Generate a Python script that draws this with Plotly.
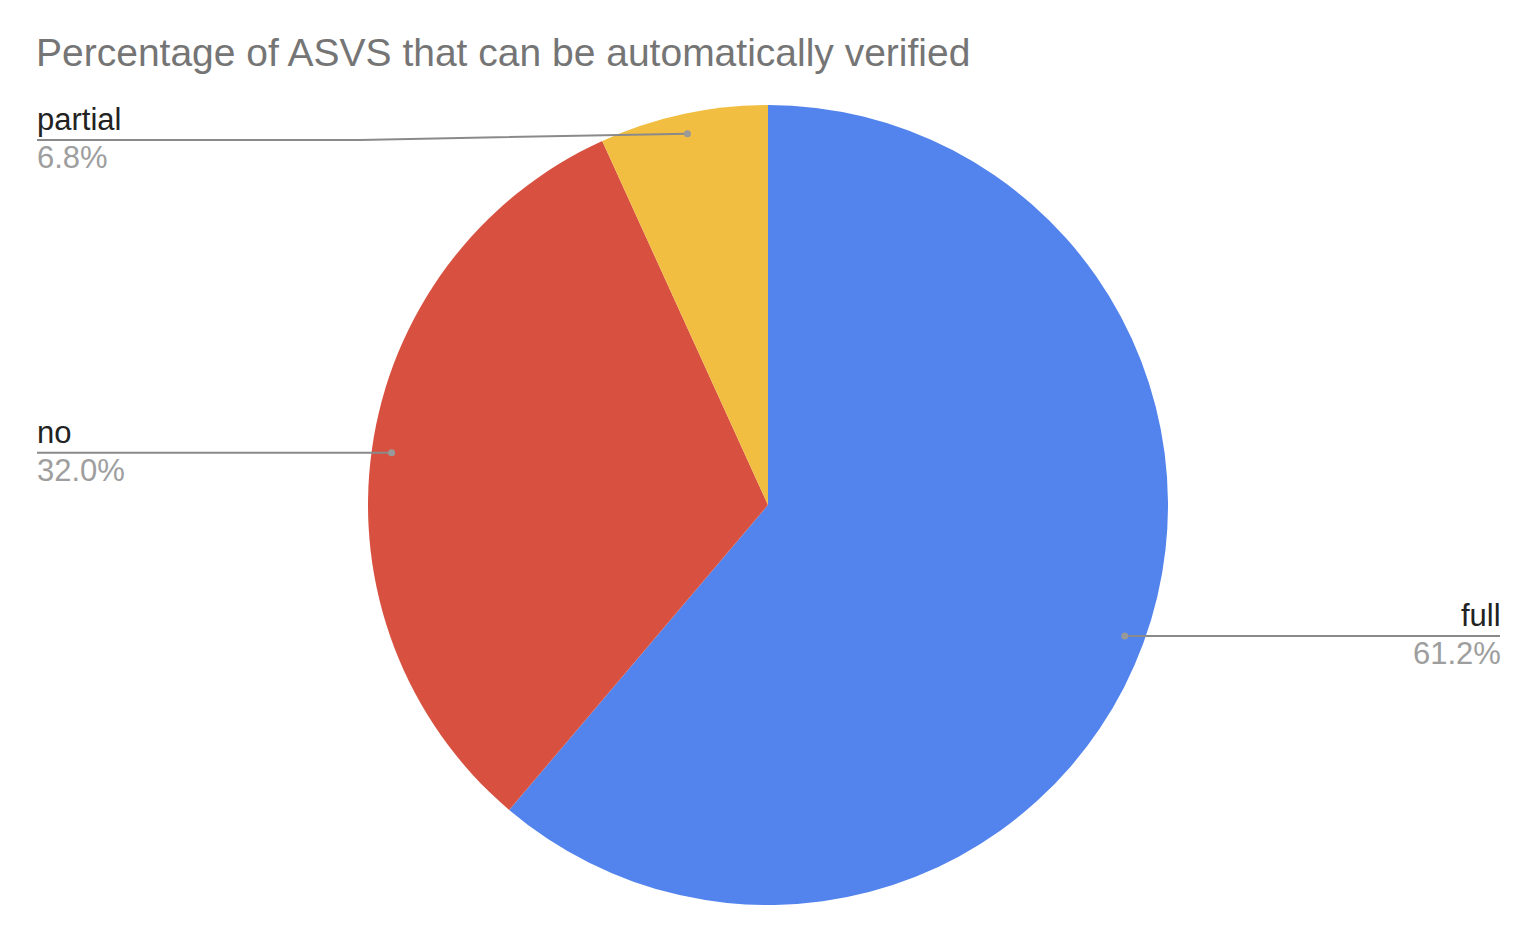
import math
import plotly.graph_objects as go

labels = ["full", "no", "partial"]
values = [61.2, 32.0, 6.8]
colors = ["#5383EC", "#D85140", "#F1BE42"]
title_text = "Percentage of ASVS that can be automatically verified"

W, H = 1536, 929
OFF = 8  # page body margin offset
CX, CY, R = 768 - OFF, 505 - OFF, 400  # pixel centre / radius of pie

fig = go.Figure(go.Pie(
    labels=labels, values=values, sort=False, direction="clockwise", rotation=0,
    marker=dict(colors=colors, line=dict(width=0)), textinfo="none",
    domain=dict(x=[(CX - R) / W, (CX + R) / W], y=[1 - (CY + R) / H, 1 - (CY - R) / H]),
    showlegend=False,
))

def px(x):
    return x / W

def py(y):
    return 1 - y / H

font = "Arial, Liberation Sans, sans-serif"
line_col = "#8a8a8a"
total = sum(values)
cum = 0
shapes = []
annotations = []
for lab, v in zip(labels, values):
    mid = (cum + v / 2) / total * 2 * math.pi
    cum += v
    dx, dy = math.sin(mid), -math.cos(mid)
    dotx, doty = CX + 0.95 * R * dx, CY + 0.95 * R * dy
    right = dx > 0
    end_x = (1500 if right else 37) - OFF
    ly = max(doty, 140 - OFF)
    if abs(ly - doty) > 0.5:
        elbow_x = 360 - OFF
        path = f"M {px(dotx)} {py(doty)} L {px(elbow_x)} {py(ly)} L {px(end_x)} {py(ly)}"
    else:
        path = f"M {px(dotx)} {py(doty)} L {px(end_x)} {py(ly)}"
    shapes.append(dict(type="path", xref="paper", yref="paper", path=path,
                       line=dict(color=line_col, width=2)))
    r = 3.5
    shapes.append(dict(type="circle", xref="paper", yref="paper",
                       x0=px(dotx - r), x1=px(dotx + r), y0=py(doty + r), y1=py(doty - r),
                       fillcolor="#999999", line=dict(width=0)))
    anchor = "right" if right else "left"
    tx = end_x + (3 if right else -2)
    annotations.append(dict(x=px(tx), y=py(ly - 1), xref="paper", yref="paper",
                            text=lab, showarrow=False, xanchor=anchor, yanchor="bottom",
                            font=dict(family=font, size=31, color="#222222")))
    annotations.append(dict(x=px(tx), y=py(ly - 2), xref="paper", yref="paper",
                            text=f"{v:.1f}%", showarrow=False, xanchor=anchor, yanchor="top",
                            font=dict(family=font, size=31, color="#9e9e9e")))

fig.update_layout(
    width=W, height=H,
    margin=dict(l=0, r=0, t=0, b=0),
    paper_bgcolor="white", plot_bgcolor="white",
    title=dict(text=title_text, x=px(36 - OFF), xanchor="left", y=py(52 - OFF), yanchor="middle",
               font=dict(family=font, size=39, color="#757575")),
    shapes=shapes, annotations=annotations,
)

fig.write_html("out.html")
